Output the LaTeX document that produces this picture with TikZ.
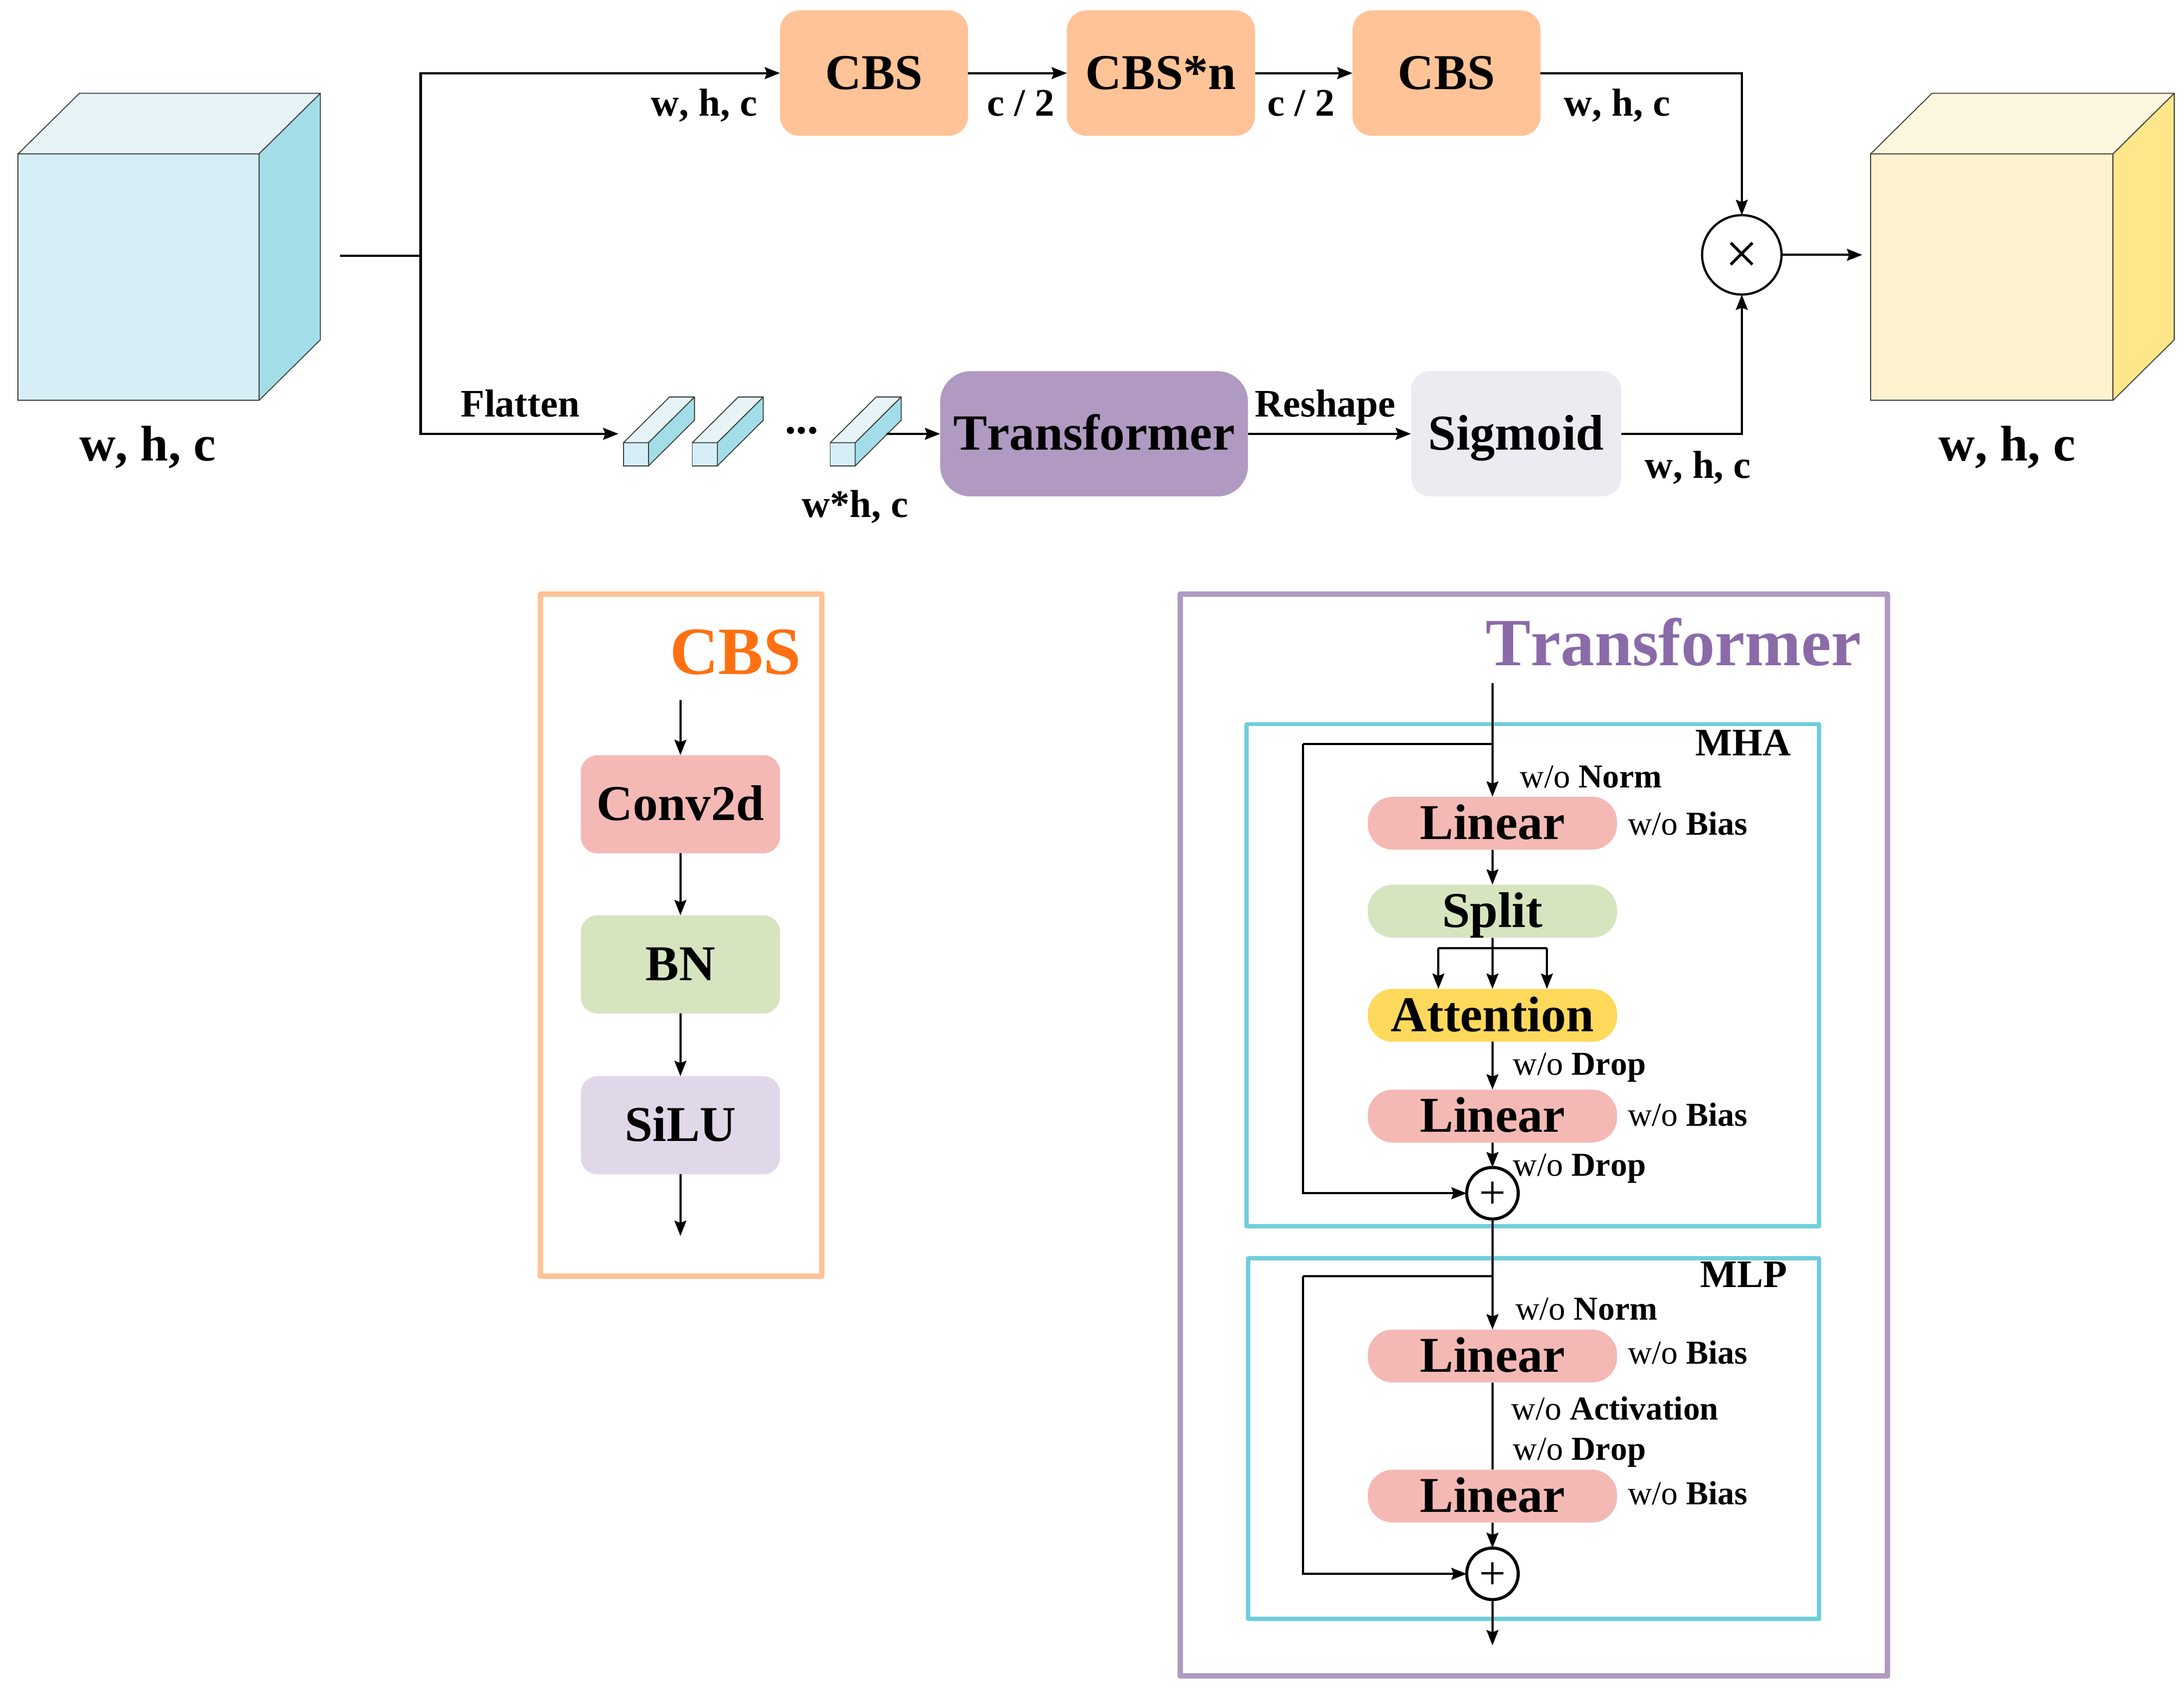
\documentclass[tikz,border=0pt]{standalone}
\usepackage{fontspec}
\setmainfont[Kerning=Off]{Liberation Serif}
\usetikzlibrary{arrows.meta,calc}
\definecolor{cbsc}{HTML}{FFC397}
\definecolor{trc}{HTML}{B09AC1}
\definecolor{sigc}{HTML}{EEEAF2}
\definecolor{redc}{HTML}{F4B9B5}
\definecolor{grnc}{HTML}{D6E4BF}
\definecolor{lilc}{HTML}{E0D8E8}
\definecolor{yelc}{HTML}{FFD95C}
\definecolor{cyanc}{HTML}{6FCEDC}
\definecolor{bfront}{HTML}{D6EFF6}
\definecolor{btop}{HTML}{E7F4F7}
\definecolor{bside}{HTML}{A3DEE8}
\definecolor{yfront}{HTML}{FEF2CF}
\definecolor{ytop}{HTML}{FEF7DF}
\definecolor{yside}{HTML}{FFE68A}
\definecolor{ttlo}{HTML}{FF7010}
\definecolor{ttlp}{HTML}{8A6BA8}
\newcommand{\fsz}[1]{\fontsize{#1}{#1}\selectfont}
\newcommand{\mycube}[9]{%
  \fill[#7,draw=cubeline,line width=0.7pt] (#1,#2) rectangle (#1+#3,#2+#4);
  \fill[#8,draw=cubeline,line width=0.7pt,line join=round] (#1,#2) -- ++(#5,#6) -- ++(#3,0) -- ++(-#5,-#6) -- cycle;
  \fill[#9,draw=cubeline,line width=0.7pt,line join=round] (#1+#3,#2) -- ++(#5,#6) -- ++(0,#4) -- ++(-#5,-#6) -- cycle;
}
\colorlet{cubeline}{black!75}
\tikzset{
  arr/.style={line width=1.6pt,-{Stealth[length=11pt,width=8.5pt,inset=1.6pt]}},
  ln/.style={line width=1.6pt},
  box/.style={rounded corners=#1,inner sep=0pt,outer sep=0pt,align=center,font=\fsz{36}\bfseries,text height=23pt,text depth=0pt},
  cbsbox/.style={box=14pt,fill=cbsc,minimum width=135pt,minimum height=90pt},
  blk/.style={box=12pt,fill=#1,minimum width=143pt,minimum height=70.5pt},
  pill/.style={box=18pt,fill=#1,minimum width=179pt,minimum height=38pt},
  lab/.style={inner sep=0pt,outer sep=0pt,font=\fsz{28}\bfseries,text height=17.5pt,text depth=0pt},
  big/.style={inner sep=0pt,outer sep=0pt,font=\fsz{36}\bfseries,text height=23pt,text depth=0pt},
  ttl/.style={inner sep=0pt,outer sep=0pt,font=\fsz{48.5}\bfseries,text height=31pt,text depth=0pt},
  wo/.style={inner sep=0pt,outer sep=0pt,font=\fsz{24},text height=15pt,text depth=0pt},
  frm/.style={line width=#1,line join=round},
  opc/.style={circle,draw=black,fill=white,inner sep=0pt,outer sep=0pt,line width=2.2pt,minimum size=#1,text height=22pt,text depth=0pt},
}
\begin{document}
\begin{tikzpicture}[x=1pt,y=-1pt]
\useasboundingbox (0,-0.5) rectangle (1568,1213);
% cubes
\mycube{13}{110}{173}{177}{44}{-43.5}{bfront}{btop}{bside}
\mycube{1343}{110}{174}{177}{44}{-43.5}{yfront}{ytop}{yside}
\mycube{447.6}{317.4}{18}{16.6}{33}{-32.8}{bfront}{btop}{bside}
\mycube{497}{317.4}{18}{16.6}{33}{-32.8}{bfront}{btop}{bside}
\mycube{596}{317.4}{18}{16.6}{33}{-32.8}{bfront}{btop}{bside}
% top row
\node[cbsbox] (c1) at (627.5,52) {CBS};
\node[cbsbox] (c2) at (833.5,52) {CBS*n};
\node[cbsbox] (c3) at (1038.5,52) {CBS};
\node[box=22pt,fill=trc,minimum width=221pt,minimum height=90pt,font=\fsz{36.4}\bfseries] (tr) at (785.5,311) {Transformer};
\node[box=14pt,fill=sigc,minimum width=151pt,minimum height=90pt] (sig) at (1088.5,311) {Sigmoid};
\node[circle,draw=black,fill=white,line width=1.6pt,minimum size=57pt,inner sep=0pt,outer sep=0pt,font=\fsz{42},text height=27pt,text depth=0pt] (mul) at (1250.5,182.5) {×};
\coordinate (in) at (244,183);
\coordinate (jn) at (302,183);
\coordinate (out) at (1337,182.5);
\coordinate (fl) at (444,311);
\coordinate (cbout) at (636.5,311);
\draw[ln] (in) -- (jn);
\draw[arr] (jn) |- (c1.west);
\draw[arr] (jn) |- (fl);
\draw[arr] (c1.east) -- (c2.west);
\draw[arr] (c2.east) -- (c3.west);
\draw[arr] (c3.east) -| (mul.north);
\draw[arr] (sig.east) -| (mul.south);
\draw[arr] (mul.east) -- (out);
\draw[arr] (cbout) -- (tr.west);
\draw[arr] (tr.east) -- (sig.west);
% top labels
\node[big] (a1) at (106,319) {w, h, c};
\node[big] (a2) at (1441,319) {w, h, c};
\node[lab] (a3) at (505.5,74) {w, h, c};
\node[lab] (a4) at (733,74) {c / 2};
\node[lab] (a5) at (934,74) {c / 2};
\node[lab] (a6) at (1161,74) {w, h, c};
\node[lab] (a7) at (1219,334) {w, h, c};
\node[lab] (a8) at (614,362) {w*h, c};
\node[lab] (a9) at (373.5,290) {Flatten};
\node[lab] (a10) at (951.5,290) {Reshape};
\node[inner sep=0pt,outer sep=0pt,font=\fsz{32}\bfseries,text height=5pt,text depth=0pt] (a11) at (575.5,308.5) {...};
% CBS panel
\draw[cbsc,frm=4pt] (388,426) rectangle (590,916);
\node[ttl,text=ttlo] (t1) at (528,468) {CBS};
\node[blk=redc] (conv) at (488.5,577) {Conv2d};
\node[blk=grnc] (bn) at (488.5,692) {BN};
\node[blk=lilc] (silu) at (488.5,807.5) {SiLU};
\coordinate (cin) at (488.5,502);
\coordinate (cout) at (488.5,887);
\draw[arr] (cin) -- (conv.north);
\draw[arr] (conv.south) -- (bn.north);
\draw[arr] (bn.south) -- (silu.north);
\draw[arr] (silu.south) -- (cout);
% Transformer panel
\draw[trc,frm=4pt] (847.5,426) rectangle (1355,1203);
\node[ttl,text=ttlp] (t2) at (1201.5,462) {Transformer};
\draw[cyanc,frm=3pt] (895,519.5) rectangle (1306,880);
\draw[cyanc,frm=3pt] (896,903) rectangle (1306,1162);
\node[lab] (mha) at (1251.5,533.5) {MHA};
\node[lab] (mlp) at (1252,915) {MLP};
\node[pill=redc] (l1) at (1071.5,590.6) {Linear};
\node[pill=grnc] (sp) at (1071.5,653.8) {Split};
\node[pill=yelc] (at) at (1071.5,728.6) {Attention};
\node[pill=redc] (l2) at (1071.5,800.9) {Linear};
\node[pill=redc] (l3) at (1071.5,973.2) {Linear};
\node[pill=redc] (l4) at (1071.5,1073.8) {Linear};
\node[opc=37pt,font=\fsz{34}] (p1) at (1071.5,856.3) {+};
\node[opc=37pt,font=\fsz{34}] (p2) at (1071.5,1129.6) {+};
\coordinate (tin) at (1071.5,490);
\coordinate (tb1) at (1071.5,533.8);
\coordinate (tc1) at (935.6,533.8);
\coordinate (tb2) at (1071.5,915.9);
\coordinate (tc2) at (935.6,915.9);
\coordinate (tout) at (1071.5,1181);
\coordinate (sj) at (1071.5,680.3);
\coordinate (sl) at (1032.7,680.3);
\coordinate (sr) at (1110.6,680.3);
\draw[arr] (tin) -- (l1.north);
\draw[ln] (tb1) -- (tc1);
\draw[arr] (tc1) |- (p1.west);
\draw[arr] (l1.south) -- (sp.north);
\draw[ln] (sl) -- (sr);
\draw[arr] (sp.south) -- (at.north);
\draw[arr] (sl) -- (sl |- at.north);
\draw[arr] (sr) -- (sr |- at.north);
\draw[arr] (at.south) -- (l2.north);
\draw[arr] (l2.south) -- (p1.north);
\draw[arr] (p1.south) -- (l3.north);
\draw[ln] (tb2) -- (tc2);
\draw[arr] (tc2) |- (p2.west);
\draw[ln] (l3.south) -- (l4.north);
\draw[arr] (l4.south) -- (p2.north);
\draw[arr] (p2.south) -- (tout);
% w/o labels
\node[wo] (w1) at (1142.3,557.5) {w/o \textbf{Norm}};
\node[wo] (w2) at (1211.7,591.5) {w/o \textbf{Bias}};
\node[wo] (w3) at (1134,764) {w/o \textbf{Drop}};
\node[wo] (w4) at (1211.7,800.5) {w/o \textbf{Bias}};
\node[wo] (w5) at (1134,836.5) {w/o \textbf{Drop}};
\node[wo] (w6) at (1139,939.7) {w/o \textbf{Norm}};
\node[wo] (w7) at (1211.7,971.5) {w/o \textbf{Bias}};
\node[wo] (w8) at (1159.5,1011.7) {w/o \textbf{Activation}};
\node[wo] (w9) at (1134,1040.5) {w/o \textbf{Drop}};
\node[wo] (w10) at (1211.7,1072.5) {w/o \textbf{Bias}};
\end{tikzpicture}
\end{document}
